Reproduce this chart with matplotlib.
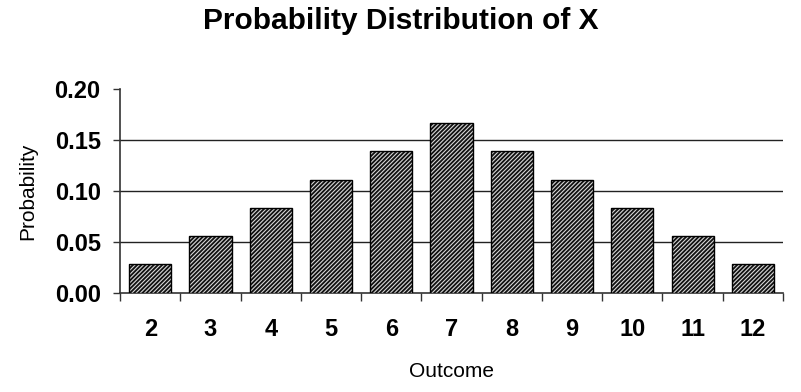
import numpy as np
import matplotlib.pyplot as plt

plt.rcParams['font.family'] = ['Liberation Sans', 'DejaVu Sans']
plt.rcParams['hatch.linewidth'] = 0.8

outcomes = ['2', '3', '4', '5', '6', '7', '8', '9', '10', '11', '12']
probs = [0.028, 0.056, 0.083, 0.111, 0.139, 0.167, 0.139, 0.111, 0.083, 0.056, 0.028]

fig = plt.figure(figsize=(8.01, 3.92), dpi=100)
ax = fig.add_axes([0.150, 0.2526, 0.8275, 0.5204])

x = np.arange(len(outcomes))
# hatched fill, then black outline on top
ax.bar(x, probs, width=0.7, color='#111111', edgecolor='#d8d8d8', hatch='////////',
       linewidth=0, zorder=3)
ax.bar(x, probs, width=0.7, fill=False, edgecolor='black', linewidth=1.0, zorder=4)

ax.set_xlim(-0.5, len(outcomes) - 0.5)
ax.set_ylim(0, 0.20)
ax.set_yticks([0.0, 0.05, 0.10, 0.15, 0.20])
ax.set_yticklabels(['0.00', '0.05', '0.10', '0.15', '0.20'], fontsize=17, fontweight='bold')
ax.set_xticks(x)
ax.set_xticklabels(outcomes, fontsize=17, fontweight='bold')
ax.set_xticks(np.arange(len(outcomes) + 1) - 0.5, minor=True)
ax.tick_params(axis='x', which='major', length=0, pad=18)
ax.tick_params(axis='x', which='minor', length=6, width=1, color='#333')
ax.tick_params(axis='y', length=5, width=1, color='#333', pad=9)

for yv in [0.05, 0.10, 0.15]:
    ax.axhline(yv, color='#222', linewidth=1, zorder=1)

for s in ['top', 'right']:
    ax.spines[s].set_visible(False)
for s in ['left', 'bottom']:
    ax.spines[s].set_color('#333')
    ax.spines[s].set_linewidth(1.2)

ax.set_xlabel('Outcome', fontsize=15)
ax.xaxis.set_label_coords(0.5, -0.387)
ax.xaxis.label.set_verticalalignment('center')
ax.set_ylabel('Probability', fontsize=15)
ax.yaxis.set_label_coords(-0.14, 0.5)
ax.yaxis.label.set_verticalalignment('center')
fig.suptitle('Probability Distribution of X', fontsize=21.5, fontweight='bold',
             y=1 - 21 / 392, va='center')

fig.savefig('out.png', dpi=100)
